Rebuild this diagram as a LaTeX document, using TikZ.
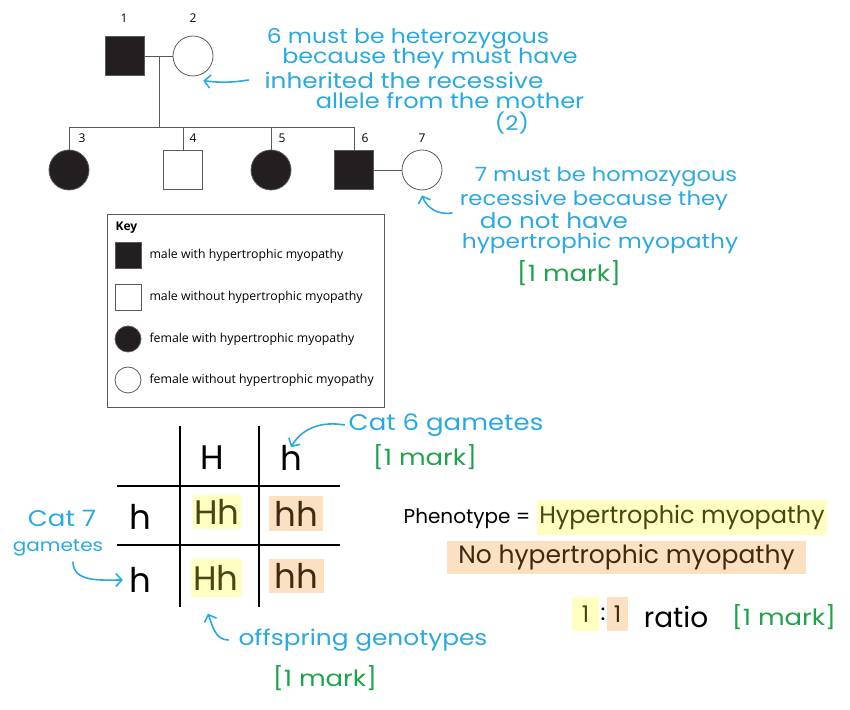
\documentclass[tikz,border=0pt]{standalone}
\usepackage{fontspec}
\setmainfont{Open Sans}
\newfontfamily\hand{Poppins}
\newfontfamily\penfont[FakeStretch=1.15]{Poppins}
\usetikzlibrary{arrows.meta}
\definecolor{pedgrey}{HTML}{5A5A5A}
\definecolor{pedblack}{HTML}{231F20}
\definecolor{penblue}{HTML}{29A9E1}
\definecolor{pengreen}{HTML}{1FA34A}
\definecolor{hlyellow}{HTML}{FFFFC2}
\definecolor{hlorange}{HTML}{FBE1C2}
\definecolor{hhyellow}{HTML}{4A4614}
\definecolor{hhorange}{HTML}{3E2A12}
\tikzset{
  male/.style={draw=pedgrey, line width=0.8pt, minimum size=39pt, inner sep=0pt},
  female/.style={male, circle, minimum size=40pt},
  ill/.style={fill=pedblack},
  num/.style={font=\fontsize{12}{12}\selectfont},
  keysym/.style={draw=pedgrey, line width=0.8pt, minimum size=26pt, inner sep=0pt},
  keytext/.style={anchor=west, font=\fontsize{12.3}{12.3}\selectfont},
  pen/.style={text=penblue, inner sep=0pt, font=\penfont\fontsize{#1}{#1}\selectfont},
  pen/.default=20,
  marktext/.style={pen=#1, text=pengreen},
  marktext/.default=22.5,
  ink/.style={inner sep=0pt, font=\hand\fontsize{#1}{#1}\selectfont},
  ink/.default=23,
  big/.style={inner sep=0pt, font=\hand\fontsize{34}{34}\selectfont},
  hy/.style={fill=hlyellow, text=hhyellow},
  ho/.style={fill=hlorange, text=hhorange},
  penarrow/.style={penblue, line width=1.6pt, line cap=round,
    -{Straight Barb[length=6pt,width=13pt,line width=1.6pt]}}
}
\begin{document}
\begin{tikzpicture}[x=1pt,y=1pt]
\useasboundingbox (0,0) rectangle (850,709);
% pedigree
\node[male,ill] (p1) at (125,653) {};
\node[female] (p2) at (193,653) {};
\node[female,ill] (p3) at (69,539) {};
\node[male] (p4) at (183,539) {};
\node[female,ill] (p5) at (271,539) {};
\node[male,ill] (p6) at (354,539) {};
\node[female] (p7) at (422,539) {};
\node[num] (l1) at (124,691) {1};
\node[num] (l2) at (193,691) {2};
\node[num] (l3) at (82,571) {3};
\node[num] (l4) at (193,571) {4};
\node[num] (l5) at (282,571) {5};
\node[num] (l6) at (365,571) {6};
\node[num] (l7) at (422,571) {7};
\coordinate (m12) at (159,653);
\coordinate (sib) at (159,582);
\begin{scope}[draw=pedgrey, line width=0.8pt]
\draw (p1) -- (p2);
\draw (m12) -- (sib);
\draw (p3 |- sib) -- (p6 |- sib);
\foreach \c in {p3,p4,p5,p6} \draw (\c |- sib) -- (\c);
\draw (p6) -- (p7);
\end{scope}

% key
\node[draw=pedgrey, line width=0.8pt, minimum width=277pt, minimum height=193pt] (key) at (245.5,398.5) {};
\node[anchor=west, font=\bfseries\fontsize{12}{12}\selectfont] (keyt) at (112,481) {Key};
\node[keysym,ill] (k1) at (128,454) {};
\node[keysym] (k2) at (128,412) {};
\node[keysym,circle,ill] (k3) at (128,370) {};
\node[keysym,circle] (k4) at (128,329) {};
\node[keytext] (kt1) at (146,454) {male with hypertrophic myopathy};
\node[keytext] (kt2) at (146,412) {male without hypertrophic myopathy};
\node[keytext] (kt3) at (146,370) {female with hypertrophic myopathy};
\node[keytext] (kt4) at (146,329) {female without hypertrophic myopathy};

% punnett square
\draw[line width=2pt] (180,283) -- (180,102);
\draw[line width=2pt] (259,283) -- (259,102);
\draw[line width=2pt] (117,223) -- (340,223);
\draw[line width=2pt] (117,164) -- (340,164);
\node[big] (hA) at (212,251) {H};
\node[big] (hB) at (291,251) {h};
\node[big] (hR1) at (140,192) {h};
\node[big] (hR2) at (140,129) {h};
\node[big,hy,minimum width=48pt,minimum height=34pt] (c11) at (217,197) {Hh};
\node[big,ho,minimum width=54pt,minimum height=35pt] (c12) at (296,195) {hh};
\node[big,hy,minimum width=51pt,minimum height=37pt] (c21) at (216,131) {Hh};
\node[big,ho,minimum width=55pt,minimum height=34pt] (c22) at (296,133) {hh};

% notes
\node[pen=20.4] (n6a) at (408,670) {6 must be heterozygous};
\node[pen=20.7] (n6b) at (430,650) {because they must have};
\node[pen=21.5] (n6c) at (404,629) {inherited the recessive};
\node[pen=21] (n6d) at (450,608) {allele from the mother};
\node[pen=20] (n6e) at (512,586) {(2)};
\draw[penarrow] ([xshift=-16pt]n6c.west) to[bend left=8] ([yshift=-7pt]p2.-60);

\node[pen=19.6] (n7a) at (606,532) {7 must be homozygous};
\node[pen=19.8] (n7b) at (594,508) {recessive because they};
\node[pen=21.5] (n7c) at (554,488) {do not have};
\node[pen=20.3] (n7d) at (600,466) {hypertrophic myopathy};
\node[marktext] (m7) at (569,436) {[1 mark]};
\coordinate (t7) at (452,496);
\draw[penarrow] (t7) to[out=190,in=-70] ([yshift=-5pt]p7.south);

\node[pen=22.6] (n6g) at (446,284) {Cat 6 gametes};
\node[marktext] (m6) at (425,252) {[1 mark]};
\draw[penarrow] ([xshift=-4pt]n6g.west) to[out=170,in=60] ([yshift=-2pt]hB.north);

\node[pen=22.6] (n7g) at (62,191) {Cat 7};
\node[pen=17.4] (n7h) at (58,161) {gametes};
\coordinate (t7g) at (73,147);
\draw[penarrow] (t7g) to[out=-90,in=180] ([xshift=-6pt]hR2.west);

\node[pen=21.6] (noff) at (363,69) {offspring genotypes};
\node[marktext] (moff) at (325,31) {[1 mark]};
\draw[penarrow] ([xshift=-10pt]noff.west) to[out=180,in=-70] ([xshift=-8pt,yshift=-17pt]c21.south);

% phenotype
\node[ink=20] (ph) at (467,190) {Phenotype =};
\node[ink=24,hy,minimum width=290pt,minimum height=35pt] (ph1) at (682,191.5) {Hypertrophic myopathy};
\node[ink=25,ho,minimum width=359pt,minimum height=33pt] (ph2) at (626.5,151.5) {No hypertrophic myopathy};
\node[ink,hy,minimum width=27pt,minimum height=34pt] (r1) at (585.5,95) {1};
\node[ink] (rc) at (603,95) {:};
\node[ink,ho,minimum width=21pt,minimum height=34pt] (r2) at (617.5,95) {1};
\node[ink=28] (rt) at (676,92) {ratio};
\node[marktext] (mr) at (784,92) {[1 mark]};
\end{tikzpicture}
\end{document}
